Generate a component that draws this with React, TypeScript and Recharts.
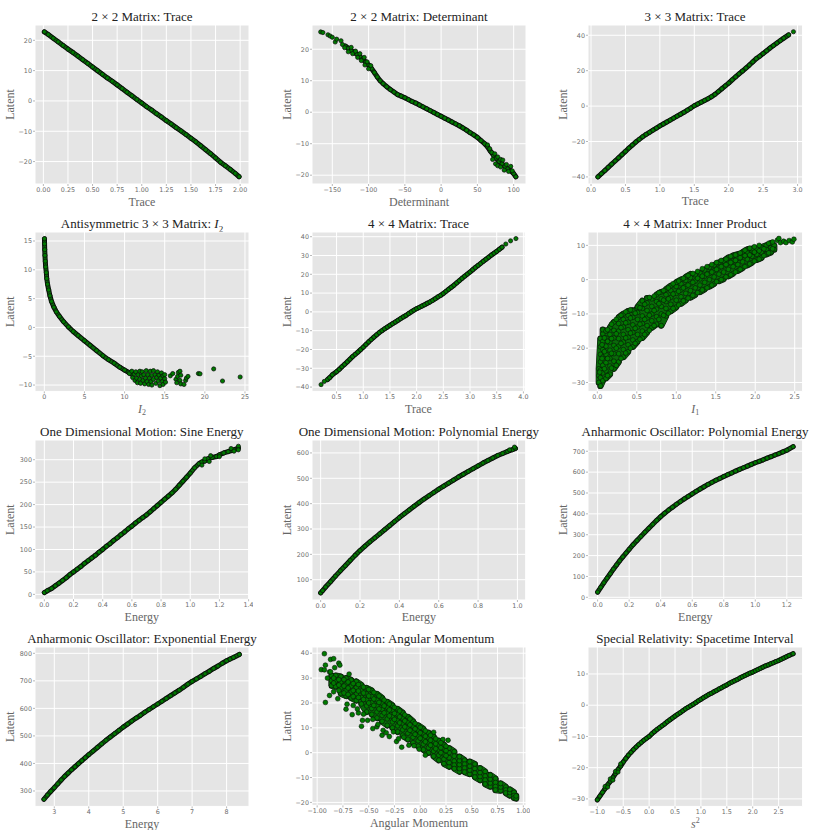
import React from 'react';
import { ScatterChart, Scatter, XAxis, YAxis, CartesianGrid } from 'recharts';

type Pt = [number, number];
type Col = number[];

const trace2Curve: Pt[] = [[0.01,22.8],[0.05,21.9],[0.1,20.7],[0.15,19.5],[0.2,18.3],[0.25,17.1],[0.3,16],[0.35,14.8],[0.4,13.6],[0.45,12.4],[0.5,11.2],[0.55,10],[0.6,8.8],[0.65,7.6],[0.7,6.5],[0.75,5.3],[0.8,4.1],[0.85,2.9],[0.9,1.7],[0.95,0.5],[1,-0.7],[1.05,-1.9],[1.1,-3],[1.15,-4.2],[1.2,-5.3],[1.25,-6.5],[1.3,-7.6],[1.35,-8.8],[1.4,-9.9],[1.45,-11.1],[1.5,-12.3],[1.55,-13.5],[1.6,-14.8],[1.65,-16.1],[1.7,-17.4],[1.75,-18.8],[1.8,-20.2],[1.85,-21.4],[1.9,-22.6],[1.95,-23.9],[1.99,-25]];

const det2Curve: Pt[] = [[-132,21],[-128,20.3],[-124,19.6],[-120,19],[-116,18.4],[-112,17.7],[-108,16.8],[-104,15.9],[-100,15],[-96,13.9],[-92,12.6],[-88,11.2],[-84,10],[-80,9.1],[-75,8.1],[-70,7.2],[-65,6.4],[-60,5.6],[-55,5.1],[-50,4.6],[-45,4],[-40,3.4],[-35,2.9],[-30,2.3],[-25,1.7],[-20,1.1],[-15,0.5],[-10,-0.1],[-5,-0.7],[0,-1.3],[5,-1.9],[10,-2.5],[15,-3.1],[20,-3.7],[25,-4.3],[30,-5],[35,-5.7],[40,-6.5],[45,-7.2],[50,-8],[55,-9],[60,-10],[64,-11],[68,-12.4],[72,-13.6],[76,-14.6],[80,-15.6],[84,-16.4],[88,-17.2],[92,-18],[96,-18.6],[100,-19.5],[103,-20.5]];
const det2Loose: Pt[] = [[-166,25.5],[-163,25.3],[-156,24.6],[-153,24.2],[-150,23.8],[-146,22.3],[-144,23.2],[-138,22.7],[-136,21.5],[-133,20.5],[-128,19.2],[-124,20.6],[-122,18.6],[-118,19.4],[-115,17.4],[-112,18.6],[-110,16.4],[-106,17.4],[-105,15],[-102,16],[-100,13.8],[-97,14.8],[64,-10.4],[67,-11.6],[70,-12.8],[71,-15],[74,-13.2],[75,-16.4],[78,-14.2],[78,-17],[82,-15],[82,-17.4],[85,-15.2],[87,-18.4],[90,-16.6],[93,-18.8],[96,-17.2],[98,-18.6]];

const trace3Curve: Pt[] = [[0.1,-40],[0.15,-38.2],[0.2,-36.4],[0.25,-34.6],[0.3,-32.8],[0.35,-31],[0.4,-29.2],[0.45,-27.4],[0.5,-25.6],[0.55,-23.7],[0.6,-22],[0.65,-20.3],[0.7,-18.8],[0.75,-17.3],[0.8,-16],[0.85,-14.8],[0.9,-13.6],[0.95,-12.4],[1,-11.2],[1.05,-10.1],[1.1,-9],[1.15,-7.9],[1.2,-6.8],[1.25,-5.7],[1.3,-4.6],[1.35,-3.5],[1.4,-2.3],[1.45,-1.1],[1.5,0.2],[1.55,1.2],[1.6,2.2],[1.65,3.2],[1.7,4.2],[1.75,5.3],[1.8,6.6],[1.85,8.2],[1.9,9.8],[1.95,11.4],[2,13],[2.05,14.8],[2.1,16.5],[2.15,18.2],[2.2,19.8],[2.25,21.5],[2.3,23.2],[2.35,25],[2.4,26.8],[2.45,28.2],[2.5,29.7],[2.55,31.2],[2.6,32.8],[2.65,34.2],[2.7,35.6],[2.75,37],[2.8,38.4],[2.87,40.2]];
const trace3Loose: Pt[] = [[2.94,42]];

const anti3Curve: Pt[] = [[0.02,15.4],[0.03,14.5],[0.05,13.5],[0.08,12.5],[0.12,11.5],[0.17,10.5],[0.25,9.5],[0.3,8.5],[0.4,7.5],[0.55,6.5],[0.7,5.5],[0.9,4.5],[1.2,3.5],[1.5,2.7],[1.9,1.9],[2.4,1],[3,0.1],[3.6,-0.7],[4.2,-1.4],[5,-2.3],[5.7,-3.1],[6.5,-4],[7.3,-4.9],[8,-5.6],[8.7,-6.2],[9.4,-6.9],[10,-7.4],[10.5,-7.8],[11,-8.2]];
const anti3Loose: Pt[] = [[10.6,-8],[10.9,-7.6],[11,-8.7],[11.2,-8.1],[11.3,-9.2],[11.4,-7.7],[11.5,-8.8],[11.6,-9.6],[11.7,-8.2],[11.9,-7.6],[11.9,-9],[12,-9.7],[12.1,-8.4],[12.2,-7.7],[12.3,-9.2],[12.4,-8.2],[12.5,-9.8],[12.6,-8.8],[12.7,-7.5],[12.8,-9.4],[12.9,-8.2],[13,-9.9],[13.1,-8.8],[13.2,-7.6],[13.3,-9.4],[13.4,-8.3],[13.4,-10],[13.6,-7.5],[13.6,-9],[13.8,-8.2],[13.9,-9.7],[14,-8.7],[14.1,-7.7],[14.2,-9.3],[14.3,-8.3],[14.4,-10.1],[14.5,-8.8],[14.6,-7.9],[14.7,-9.4],[14.8,-8.4],[14.8,-9.9],[15,-8.9],[15.1,-9.5],[15,-8.2],[15.7,-8.4],[16,-8],[16.4,-9],[16.5,-9.6],[16.6,-8.5],[16.7,-7.8],[16.9,-7.6],[17,-8.3],[16.9,-9.2],[17,-9.8],[17.4,-9.9],[17.6,-9.2],[17.7,-8.8],[17.9,-8.5],[19.2,-8],[19.4,-8.05],[21.1,-7.2],[22.2,-9.3],[24.4,-8.6]];

const trace4Curve: Pt[] = [[0.33,-36],[0.37,-35],[0.42,-33.5],[0.5,-31.8],[0.55,-30.6],[0.6,-29.2],[0.65,-27.9],[0.7,-26.6],[0.75,-25.2],[0.8,-23.8],[0.85,-22.6],[0.9,-21.4],[0.95,-20.1],[1,-18.8],[1.05,-17.4],[1.1,-16],[1.15,-14.7],[1.2,-13.4],[1.25,-12.2],[1.3,-11],[1.35,-10],[1.4,-9],[1.45,-8.1],[1.5,-7.2],[1.55,-6.3],[1.6,-5.4],[1.65,-4.5],[1.7,-3.6],[1.75,-2.7],[1.8,-1.9],[1.85,-0.9],[1.9,0],[1.95,0.9],[2,1.7],[2.05,2.4],[2.1,3.1],[2.15,3.8],[2.2,4.6],[2.25,5.3],[2.3,6.1],[2.35,7],[2.4,8],[2.45,8.8],[2.5,9.8],[2.55,10.9],[2.6,12],[2.65,13.1],[2.7,14.2],[2.75,15.4],[2.8,16.6],[2.85,17.8],[2.9,19],[2.95,20.1],[3,21.2],[3.05,22.4],[3.1,23.6],[3.15,24.7],[3.2,25.8],[3.25,26.9],[3.3,28],[3.35,29.1],[3.4,30.2],[3.45,31.2],[3.5,32.2],[3.55,33.3],[3.6,34.4]];
const trace4Loose: Pt[] = [[0.21,-38.7],[0.27,-37],[3.67,36.1],[3.76,37.8],[3.86,39]];

const innerColumns: Col[] = [
  [0.02,-30,-28,-26],
  [0.04,-31,-28.6,-26.4,-24,-21.8,-19.6,-17.2],
  [0.07,-29.5,-27.2,-25,-22.6,-20.4,-18,-15.8,-14.6],
  [0.11,-28.8,-26.6,-24.2,-21.8,-19.4,-17,-15],
  [0.16,-27.6,-25.2,-23,-20.6,-18.2,-16,-14],
  [0.21,-26,-23.8,-21.6,-19.2,-17,-14.8,-12.4],
  [0.27,-24,-21.6,-19.4,-17.2,-15,-12.8,-11],
  [0.33,-22.6,-20.4,-18.2,-16,-13.8,-11.6,-10],
  [0.39,-21,-19,-16.8,-14.6,-12.4,-10.4,-9.2],
  [0.45,-19.6,-17.6,-15.4,-13.2,-11,-9],
  [0.51,-18,-16,-13.8,-11.6,-9.6,-8],
  [0.57,-17,-15,-12.8,-10.6,-8.4,-6.2],
  [0.63,-15.4,-13.4,-11.2,-9,-6.8,-5.4],
  [0.69,-14,-12,-10,-7.8,-5.6],
  [0.75,-13,-10.8,-8.6,-6.4,-4.4],
  [0.81,-13.4,-10,-7.8,-5.6,-3.6],
  [0.87,-10.6,-8.4,-6.4,-4.4,-2.8],
  [0.93,-9.2,-7.2,-5.2,-3.2,-1.8],
  [1,-8,-6,-4,-2,-0.8],
  [1.06,-7,-5,-3,-1.2,0],
  [1.12,-6,-4,-2,-0.2,0.8],
  [1.18,-5.2,-3.2,-1.2,0.6,1.6],
  [1.24,-4.4,-2.4,-0.4,1.4],
  [1.3,-3.6,-1.6,0.2,2],
  [1.36,-2.8,-0.8,1,2.8],
  [1.42,-2,0,1.8,3.6],
  [1.48,-1.2,0.8,2.6,4.2],
  [1.54,-0.4,1.6,3.4,5],
  [1.6,0.2,2.2,4,5.4],
  [1.66,1,3,4.8,6.4],
  [1.72,1.8,3.8,5.4,7],
  [1.78,2.6,4.4,6.2,7.4],
  [1.84,3.4,5.2,7,8],
  [1.9,4.2,6,7.8,8.8],
  [1.96,5,6.8,8.4,9],
  [2.02,5.8,7.4,9],
  [2.08,6.4,8,9.4],
  [2.14,7.4,8.8,10],
  [2.2,8,9.4,10.6],
  [2.24,8.8,10],
];
const innerLoose: Pt[] = [[0.03,-27],[0.06,-23],[0.06,-19],[0.09,-26],[0.09,-21],[0.09,-17],[0.13,-28],[0.13,-23],[0.13,-18],[0.13,-14.6],[0.18,-25.8],[0.18,-21.5],[0.18,-17.2],[0.18,-13],[0.24,-25],[0.24,-20],[0.24,-15.8],[0.24,-11.6],[0.3,-23],[0.3,-18.6],[0.3,-14],[0.3,-10.4],[0.36,-21.4],[0.36,-17],[0.36,-12.6],[0.36,-9.4],[0.42,-20],[0.42,-15.6],[0.42,-11.2],[0.42,-8.8],[0.48,-18.6],[0.48,-14.2],[0.48,-9.8],[0.54,-17.4],[0.54,-13],[0.54,-8.2],[0.6,-16],[0.6,-11.6],[0.6,-7.2],[0.66,-14.8],[0.66,-10.4],[0.66,-5.2],[0.72,-13.4],[0.72,-9],[0.72,-4.8],[0.78,-11.6],[0.78,-7],[0.78,-3.8],[0.84,-10.4],[0.84,-6],[0.84,-3.2],[0.9,-9.8],[0.9,-5.6],[0.9,-2.4],[0.96,-8.4],[0.96,-4.2],[0.96,-1.2],[1.03,-7.4],[1.03,-3.4],[1.03,-0.4],[1.09,-6.2],[1.09,-2.4],[1.09,0.4],[1.15,-5.4],[1.15,-1.6],[1.15,1.2],[1.21,-4.6],[1.21,-0.8],[1.21,1.8],[1.27,-3.8],[1.27,0.4],[1.27,2.4],[1.33,-3],[1.33,1],[1.33,3.2],[1.39,-2.4],[1.39,1.6],[1.39,3.8],[1.45,-1.6],[1.45,2.2],[1.45,4.4],[1.51,-0.6],[1.51,3],[1.51,5],[1.57,0],[1.57,3.8],[1.57,5.6],[1.63,0.8],[1.63,4.4],[1.63,6],[1.69,1.4],[1.69,5],[1.69,6.8],[1.75,2.2],[1.75,5.6],[1.75,7.2],[1.81,3],[1.81,6.4],[1.81,7.8],[1.87,3.8],[1.87,7],[1.87,8.6],[1.93,4.6],[1.93,7.2],[1.93,9.2],[1.99,5.4],[1.99,8],[1.99,9.6],[2.05,6],[2.05,8.4],[2.05,10],[2.11,7],[2.11,9],[2.17,7.8],[2.17,10.6],[2.22,9],[2.22,11],[2.28,11.5],[2.3,12],[2.32,10.8],[2.36,11.2],[2.39,10.8],[2.43,11.4],[2.47,11],[2.49,11.8]];

const sineCurve: Pt[] = [[0,4],[0.02,8],[0.05,13],[0.075,19],[0.1,25],[0.125,31],[0.15,37],[0.175,44],[0.2,50],[0.225,56],[0.25,62],[0.275,69],[0.3,75],[0.325,81],[0.35,87],[0.375,94],[0.4,100],[0.425,107],[0.45,113],[0.475,120],[0.5,126],[0.525,133],[0.55,139],[0.575,146],[0.6,152],[0.625,159],[0.65,165],[0.675,171],[0.7,177],[0.725,184],[0.75,191],[0.775,198],[0.8,205],[0.825,212],[0.85,219],[0.875,226],[0.9,234],[0.925,243],[0.95,252],[0.975,261],[1,270],[1.03,282],[1.06,291],[1.08,295],[1.1,297],[1.12,302],[1.15,305],[1.18,307],[1.2,311],[1.23,315],[1.26,318],[1.3,322],[1.33,326]];
const sineLoose: Pt[] = [[1.08,288],[1.1,302],[1.13,296],[1.14,309],[1.2,307],[1.28,325],[1.33,330],[1.33,322],[1.3,319]];

const polyCurve: Pt[] = [[0,48],[0.01,57],[0.025,71],[0.05,92],[0.075,114],[0.1,135],[0.125,155],[0.15,176],[0.175,196],[0.2,215],[0.225,232],[0.25,249],[0.275,265],[0.3,281],[0.325,297],[0.35,313],[0.375,329],[0.4,345],[0.425,360],[0.45,375],[0.475,390],[0.5,404],[0.525,418],[0.55,431],[0.575,444],[0.6,457],[0.625,469],[0.65,481],[0.675,493],[0.7,505],[0.725,516],[0.75,527],[0.775,538],[0.8,549],[0.825,560],[0.85,570],[0.875,580],[0.9,590],[0.925,598],[0.95,606],[0.975,613],[0.99,618]];
const polyLoose: Pt[] = [[0.985,623],[0.96,612]];

const anharmPolyCurve: Pt[] = [[0,25],[0.02,48],[0.04,70],[0.06,92],[0.08,113],[0.1,135],[0.12,155],[0.14,175],[0.16,194],[0.18,212],[0.2,230],[0.225,252],[0.25,272],[0.275,292],[0.3,312],[0.325,331],[0.35,350],[0.375,369],[0.4,387],[0.425,403],[0.45,418],[0.475,432],[0.5,446],[0.525,459],[0.55,472],[0.575,484],[0.6,496],[0.625,508],[0.65,519],[0.675,530],[0.7,541],[0.725,551],[0.75,561],[0.775,570],[0.8,579],[0.825,588],[0.85,596],[0.875,605],[0.9,613],[0.925,621],[0.95,629],[0.975,637],[1,645],[1.025,652],[1.05,659],[1.075,667],[1.1,674],[1.125,682],[1.15,689],[1.175,697],[1.2,705],[1.24,722]];

const anharmExpCurve: Pt[] = [[2.7,270],[2.8,285],[2.9,299],[3,312],[3.1,326],[3.2,340],[3.3,353],[3.4,365],[3.5,377],[3.6,388],[3.7,399],[3.8,410],[3.9,421],[4,432],[4.125,445],[4.25,458],[4.375,471],[4.5,484],[4.625,496],[4.75,508],[4.875,520],[5,532],[5.125,543],[5.25,554],[5.375,565],[5.5,575],[5.625,586],[5.75,596],[5.875,606],[6,616],[6.125,626],[6.25,636],[6.375,646],[6.5,656],[6.625,666],[6.75,677],[6.875,688],[7,698],[7.125,707],[7.25,716],[7.375,726],[7.5,735],[7.625,745],[7.75,754],[7.875,764],[8,773],[8.1,779],[8.2,785],[8.37,796]];

const angularColumns: Col[] = [
  [-0.86,31,29,27],
  [-0.82,31,28.8,26.6],
  [-0.77,30.6,28.4,26,23.8],
  [-0.72,30,27.6,25,22.8],
  [-0.67,29.2,26.8,24.4,22],
  [-0.62,28.6,26.2,23.6,21],
  [-0.57,27.2,24.8,22.2,19.6],
  [-0.52,26,23.6,21.2,18.8,16.4],
  [-0.47,25,22.6,20.2,17.8,15.4],
  [-0.42,23.6,21.2,18.8,16.4,14],
  [-0.37,22,19.8,17.4,15,12.6],
  [-0.32,20.4,18.2,16,13.6,11],
  [-0.27,19,17,14.6,12.4,10],
  [-0.22,17.6,15.4,13,10.8,8.4],
  [-0.17,16,13.8,11.6,9.2,7],
  [-0.12,14.4,12.2,10,7.8,5.4],
  [-0.07,12.6,10.6,8.4,6.2,4],
  [-0.02,11,9,7,4.8,2.6],
  [0.03,9.6,7.6,5.4,3.4,1.2],
  [0.08,8,6,4,2,0],
  [0.13,6.4,4.6,2.6,0.6,-1.4],
  [0.18,4.8,3,1,-1,-3],
  [0.23,3.2,1.4,-0.6,-2.6,-4.4],
  [0.28,1.8,0,-2,-4,-5.6],
  [0.33,0.4,-1.4,-3.4,-5,-6.4],
  [0.38,-1.6,-3.2,-4.8,-6.4,-7.6],
  [0.43,-3,-4.6,-6.2,-7.8],
  [0.48,-3.6,-5.4,-7,-8.6],
  [0.53,-4.6,-6.4,-8.2,-9.8],
  [0.58,-6.2,-8,-9.6,-11],
  [0.63,-7.6,-9.4,-11,-12.6],
  [0.68,-9,-10.6,-12.2,-13.6],
  [0.73,-10.4,-12,-13.6,-15],
  [0.78,-12.4,-13.8,-15.2],
  [0.83,-13.8,-15,-16.2],
  [0.87,-14.8,-16,-17.2],
  [0.91,-16,-17.2,-18.2],
  [0.93,-17.4,-18.4],
];
const angularLoose: Pt[] = [[-0.93,39.8],[-0.87,37.5],[-0.84,37.8],[-0.83,34.2],[-0.79,36],[-0.78,35.2],[-0.92,35.2],[-0.96,33.4],[-0.93,33.3],[-0.88,32.5],[-0.87,32.5],[-0.9,30],[-0.69,31.6],[-0.88,23],[-0.92,20.2],[-0.84,24.5],[-0.8,21.7],[-0.72,17.5],[-0.66,15.3],[-0.6,16],[-0.56,13],[-0.57,10.6],[-0.46,9.7],[-0.42,10.4],[-0.37,7],[-0.3,6.5],[-0.23,4.5],[-0.18,2.2],[0.13,8.2],[0.22,5.3],[0.27,5],[0.05,-1],[-0.71,19.5],[-0.65,19],[-0.61,17.6],[-0.55,15.5],[-0.51,13],[-0.46,13.4],[-0.41,11.4],[-0.36,9],[-0.33,8],[-0.26,8.4],[-0.21,5.6],[-0.16,6.2],[-0.11,3],[-0.06,2.8],[-0.01,1.4],[-0.84,30],[-0.84,28],[-0.79,29.4],[-0.79,27.2],[-0.79,25],[-0.74,29.4],[-0.74,26.8],[-0.74,24],[-0.7,28.4],[-0.7,26],[-0.7,23.4],[-0.65,27.8],[-0.65,25],[-0.65,22.6],[-0.6,27.4],[-0.6,24.8],[-0.6,22.2],[-0.55,26.4],[-0.55,24],[-0.55,21.4],[-0.5,25.4],[-0.5,22.8],[-0.5,20],[-0.45,24.2],[-0.45,21.6],[-0.45,19],[-0.4,22.8],[-0.4,20.2],[-0.4,17.6],[-0.35,21.2],[-0.35,18.8],[-0.35,16],[-0.3,19.6],[-0.3,17.2],[-0.3,14.8],[-0.25,18.2],[-0.25,15.8],[-0.25,13.4],[-0.2,16.8],[-0.2,14.4],[-0.2,12],[-0.15,15.2],[-0.15,12.8],[-0.15,10.4],[-0.1,13.6],[-0.1,11.2],[-0.1,9],[-0.05,11.8],[-0.05,9.6],[-0.05,7.4],[0,10.2],[0,8],[0,5.8],[0.05,8.8],[0.05,6.6],[0.05,4.4],[0.1,7],[0.1,5],[0.1,3],[0.15,5.6],[0.15,3.6],[0.15,1.6],[0.2,4],[0.2,2],[0.2,0],[0.25,2.6],[0.25,0.8],[0.25,-1.2]];

const spacetimeCurve: Pt[] = [[-1,-30.3],[-0.95,-29.1],[-0.9,-27.9],[-0.85,-26.7],[-0.8,-25.5],[-0.75,-24.4],[-0.7,-23.2],[-0.65,-21.9],[-0.6,-20.6],[-0.55,-19.5],[-0.5,-18.2],[-0.45,-17.1],[-0.4,-16],[-0.35,-15.1],[-0.3,-14.2],[-0.25,-13.4],[-0.2,-12.6],[-0.15,-11.9],[-0.1,-11.2],[-0.05,-10.6],[0,-10],[0.05,-9.2],[0.1,-8.5],[0.15,-7.8],[0.2,-7.2],[0.25,-6.6],[0.3,-6],[0.35,-5.3],[0.4,-4.7],[0.45,-4.1],[0.5,-3.5],[0.55,-2.9],[0.6,-2.4],[0.65,-1.8],[0.7,-1.2],[0.75,-0.7],[0.8,-0.2],[0.85,0.3],[0.9,0.8],[0.95,1.4],[1,1.9],[1.05,2.4],[1.1,2.9],[1.15,3.4],[1.2,3.8],[1.25,4.3],[1.3,4.7],[1.35,5.2],[1.4,5.6],[1.45,6.1],[1.5,6.5],[1.55,7],[1.6,7.4],[1.65,7.8],[1.7,8.2],[1.75,8.7],[1.8,9.1],[1.85,9.5],[1.9,9.9],[1.95,10.3],[2,10.6],[2.05,11],[2.1,11.4],[2.15,11.8],[2.2,12.2],[2.25,12.6],[2.3,12.9],[2.35,13.3],[2.4,13.6],[2.45,14],[2.5,14.3],[2.55,14.7],[2.6,15.1],[2.65,15.5],[2.7,15.9],[2.78,16.5]];
const spacetimeLoose: Pt[] = [[-0.85,-26],[-0.8,-26.2],[-0.75,-23.6],[-0.7,-24],[-0.65,-21.2],[-0.6,-21.4],[-0.55,-18.8]];

const columnsToPoints = (cols: Col[]): Pt[] =>
  cols.flatMap((c, i) => {
    const ys = c.slice(1);
    return (i % 2 ? [...ys].reverse() : ys).map((y) => [c[0], y] as Pt);
  });

const sub2 = (
  <>
    <i>I</i>
    <sub style={{ fontSize: 9 }}>2</sub>
  </>
);

const panels = [
  { title: <>2 × 2 Matrix: Trace</>, xLabel: 'Trace', box: [35, 25, 214, 159], xDomain: [-0.085, 2.09], yDomain: [-27.4, 25.05], xTicks: [0, 0.25, 0.5, 0.75, 1, 1.25, 1.5, 1.75, 2], yTicks: [-20, -10, 0, 10, 20], digits: 2, curve: trace2Curve, loose: [] as Pt[] },
  { title: <>2 × 2 Matrix: Determinant</>, xLabel: 'Determinant', box: [312, 25, 214, 159], xDomain: [-178, 117], yDomain: [-22.8, 27.7], xTicks: [-150, -100, -50, 0, 50, 100], yTicks: [-20, -10, 0, 10, 20], digits: 0, curve: det2Curve, loose: det2Loose },
  { title: <>3 × 3 Matrix: Trace</>, xLabel: 'Trace', box: [587.7, 25, 214.6, 159], xDomain: [-0.044, 3.073], yDomain: [-44, 45.8], xTicks: [0, 0.5, 1, 1.5, 2, 2.5, 3], yTicks: [-40, -20, 0, 20, 40], digits: 1, curve: trace3Curve, loose: trace3Loose },
  { title: <>Antisymmetric 3 × 3 Matrix: {sub2}</>, xLabel: 'I2', box: [35, 232.3, 214, 159.4], xDomain: [-1.16, 25.5], yDomain: [-11.1, 16.56], xTicks: [0, 5, 10, 15, 20, 25], yTicks: [-10, -5, 0, 5, 10, 15], digits: 0, curve: anti3Curve, loose: anti3Loose },
  { title: <>4 × 4 Matrix: Trace</>, xLabel: 'Trace', box: [312, 232.3, 213, 159.4], xDomain: [0.04, 4.03], yDomain: [-42.3, 42.5], xTicks: [0.5, 1, 1.5, 2, 2.5, 3, 3.5, 4], yTicks: [-40, -30, -20, -10, 0, 10, 20, 30, 40], digits: 1, curve: trace4Curve, loose: trace4Loose },
  { title: <>4 × 4 Matrix: Inner Product</>, xLabel: 'I1', box: [587.7, 232.3, 214.6, 159.4], xDomain: [-0.118, 2.6], yDomain: [-32.6, 13.9], xTicks: [0, 0.5, 1, 1.5, 2, 2.5], yTicks: [-30, -20, -10, 0, 10], digits: 1, curve: columnsToPoints(innerColumns), loose: innerLoose, cloud: true },
  { title: <>One Dimensional Motion: Sine Energy</>, xLabel: 'Energy', box: [35, 440, 213.6, 159.3], xDomain: [-0.064, 1.4], yDomain: [-11, 343.9], xTicks: [0, 0.2, 0.4, 0.6, 0.8, 1, 1.2, 1.4], yTicks: [0, 50, 100, 150, 200, 250, 300], digits: 1, curve: sineCurve, loose: sineLoose },
  { title: <>One Dimensional Motion: Polynomial Energy</>, xLabel: 'Energy', box: [312, 440, 213.7, 160], xDomain: [-0.044, 1.042], yDomain: [20, 651], xTicks: [0, 0.2, 0.4, 0.6, 0.8, 1], yTicks: [100, 200, 300, 400, 500, 600], digits: 1, curve: polyCurve, loose: polyLoose },
  { title: <>Anharmonic Oscillator: Polynomial Energy</>, xLabel: 'Energy', box: [587.7, 440, 214.6, 159.5], xDomain: [-0.061, 1.3], yDomain: [-10.5, 754], xTicks: [0, 0.2, 0.4, 0.6, 0.8, 1, 1.2], yTicks: [0, 100, 200, 300, 400, 500, 600, 700], digits: 1, curve: anharmPolyCurve, loose: [] as Pt[] },
  { title: <>Anharmonic Oscillator: Exponential Energy</>, xLabel: 'Energy', box: [35, 647.3, 214, 159.4], xDomain: [2.44, 8.65], yDomain: [244, 823], xTicks: [3, 4, 5, 6, 7, 8], yTicks: [300, 400, 500, 600, 700, 800], digits: 0, curve: anharmExpCurve, loose: [] as Pt[] },
  { title: <>Motion: Angular Momentum</>, xLabel: 'Angular Momentum', box: [312, 647.3, 214, 158.4], xDomain: [-1.05, 1.026], yDomain: [-21.2, 42.5], xTicks: [-1, -0.75, -0.5, -0.25, 0, 0.25, 0.5, 0.75, 1], yTicks: [-20, -10, 0, 10, 20, 30, 40], digits: 2, curve: columnsToPoints(angularColumns), loose: angularLoose, cloud: true },
  { title: <>Special Relativity: Spacetime Interval</>, xLabel: 's2', box: [587.7, 647.3, 214.6, 159.4], xDomain: [-1.18, 2.963], yDomain: [-32.4, 18.64], xTicks: [-1, -0.5, 0, 0.5, 1, 1.5, 2, 2.5], yTicks: [-30, -20, -10, 0, 10], digits: 1, curve: spacetimeCurve, loose: spacetimeLoose },
];

const SERIF = '"Liberation Serif", serif';
const TICK = { fontFamily: '"DejaVu Sans", sans-serif', fontSize: 6.4, fill: '#6e6e6e' };
const LEFT = 34;
const TOP = 2;
const BOTTOM = 30;
const RIGHT = 4;

const fmt = (d: number) => (v: number) => {
  const s = Math.abs(v).toFixed(d);
  return v < 0 ? '\u2212' + s : s;
};

const toData = (pts: Pt[]) => pts.map(([x, y]) => ({ x, y }));

const Dot = (p: any) => <circle cx={p.cx} cy={p.cy} r={2.1} fill="#007a00" stroke="#0a0a0a" strokeWidth={0.7} />;
const CloudDot = (p: any) => <circle cx={p.cx} cy={p.cy} r={2.4} fill="#007a00" stroke="#0a0a0a" strokeWidth={0.55} />;
const NoDot = () => <g />;

const xLabelNode = (name: string) => {
  if (name === 'I2' || name === 'I1')
    return (
      <>
        <tspan fontStyle="italic">I</tspan>
        <tspan fontSize={8} dy={2}>{name[1]}</tspan>
      </>
    );
  if (name === 's2')
    return (
      <>
        <tspan fontStyle="italic">s</tspan>
        <tspan fontSize={8} dy={-5}>2</tspan>
      </>
    );
  return name;
};

function Panel({ p }: { p: (typeof panels)[number] }) {
  const [x, y, w, h] = p.box;
  const curve = toData(p.curve);
  const loose = toData(p.loose);
  const cloud = (p as any).cloud;
  const cx = LEFT + w / 2;
  const cy = TOP + h / 2;
  const Mark = cloud ? CloudDot : Dot;
  return (
    <>
      <div
        style={{
          position: 'absolute',
          left: x - 40,
          width: w + 80,
          top: y - 16,
          lineHeight: '16px',
          height: 16,
          textAlign: 'center',
          fontFamily: SERIF,
          fontSize: 13,
          color: '#222',
          whiteSpace: 'nowrap',
        }}
      >
        {p.title}
      </div>
      <div style={{ position: 'absolute', left: x - LEFT, top: y - TOP }}>
        <ScatterChart
          width={w + LEFT + RIGHT}
          height={h + TOP + BOTTOM}
          margin={{ top: TOP, right: RIGHT, bottom: 0, left: 0 }}
        >
          <CartesianGrid fill="#e5e5e5" stroke="#ffffff" strokeWidth={1} />
          <XAxis
            type="number"
            dataKey="x"
            domain={p.xDomain as [number, number]}
            ticks={p.xTicks}
            allowDataOverflow
            interval={0}
            height={BOTTOM}
            axisLine={false}
            tickSize={2}
            tickMargin={1}
            tickLine={{ stroke: '#888', strokeWidth: 0.6 }}
            tick={TICK}
            tickFormatter={fmt(p.digits)}
            label={() => (
              <text x={cx} y={TOP + h + 21.5} textAnchor="middle" fontFamily={SERIF} fontSize={12} fill="#666">
                {xLabelNode(p.xLabel)}
              </text>
            )}
          />
          <YAxis
            type="number"
            dataKey="y"
            domain={p.yDomain as [number, number]}
            ticks={p.yTicks}
            allowDataOverflow
            interval={0}
            width={LEFT}
            axisLine={false}
            tickSize={2}
            tickMargin={1}
            tickLine={{ stroke: '#888', strokeWidth: 0.6 }}
            tick={TICK}
            tickFormatter={fmt(0)}
            label={() => (
              <text
                x={13}
                y={cy}
                textAnchor="middle"
                fontFamily={SERIF}
                fontSize={12}
                fill="#666"
                transform={`rotate(-90 13 ${cy})`}
              >
                Latent
              </text>
            )}
          />
          <Scatter
            data={curve}
            isAnimationActive={false}
            shape={NoDot}
            line={{ stroke: '#0a0a0a', strokeWidth: cloud ? 6.4 : 5, strokeLinejoin: 'round', strokeLinecap: 'round' }}
            lineType="joint"
          />
          <Scatter
            data={curve}
            isAnimationActive={false}
            shape={Mark}
            line={{ stroke: '#0a6a0a', strokeWidth: cloud ? 5.4 : 3, strokeLinejoin: 'round', strokeLinecap: 'round' }}
            lineType="joint"
          />
          <Scatter data={loose} isAnimationActive={false} shape={Mark} />
        </ScatterChart>
      </div>
    </>
  );
}

export default function App() {
  return (
    <div style={{ position: 'absolute', left: 0, top: 0, width: 830, height: 830, overflow: 'hidden', background: '#fff' }}>
      {panels.map((p, i) => (
        <Panel key={i} p={p} />
      ))}
    </div>
  );
}
